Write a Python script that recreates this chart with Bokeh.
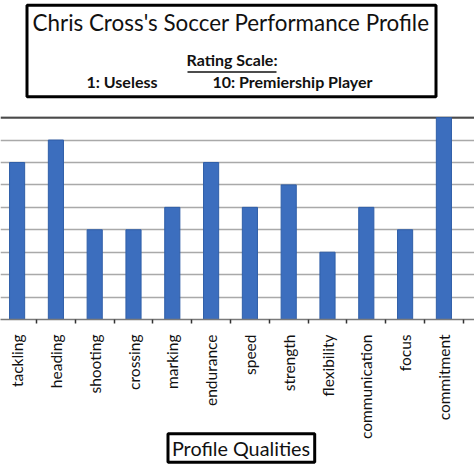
from bokeh.plotting import figure
from bokeh.layouts import column
from bokeh.models import Range1d, FixedTicker, Grid
from bokeh.core.properties import value
from bokeh.embed import file_html
from bokeh.resources import INLINE

qualities = ["tackling", "heading", "shooting", "crossing", "marking", "endurance",
             "speed", "strength", "flexibility", "communication", "focus", "commitment"]
ratings = [8, 9, 5, 5, 6, 8, 6, 7, 4, 6, 5, 10]
grid_values = [2, 3, 4, 5, 6, 7, 8, 9]
top_value = [10]

title_text = "Chris Cross's Soccer Performance Profile"
scale_head = "Rating Scale:"
scale_low = "1: Useless"
scale_high = "10: Premiership Player"
x_title = "Profile Qualities"

FONT = "Lato"
TXT_SHIFT = 8  # empirical correction for text baseline


def blank(fig):
    fig.axis.visible = False
    fig.grid.visible = False
    fig.outline_line_color = None
    fig.background_fill_color = None
    fig.border_fill_color = None


# ---------- header ----------
hdr = figure(width=474, height=110, x_range=Range1d(0, 474), y_range=Range1d(110, 0),
             output_backend="svg", toolbar_location=None,
             min_border=0, min_border_left=0, min_border_right=0,
             min_border_top=0, min_border_bottom=0)
blank(hdr)
hdr.quad(left=26.5, right=435.5, top=4.8, bottom=96.2, fill_color=None,
         line_color="black", line_width=3)
hdr.text(x=[230.5], y=[30 - TXT_SHIFT], text=[title_text], text_align="center",
         text_baseline="alphabetic", text_font=value(FONT), text_font_size="22.4px",
         text_color="#111111")
hdr.text(x=[231.5], y=[67 - TXT_SHIFT], text=[scale_head], text_align="center",
         text_baseline="alphabetic", text_font=value(FONT), text_font_size="16px",
         text_font_style="bold", text_color="#111111")
hdr.segment(x0=[187], x1=[276], y0=[71.5], y1=[71.5], line_color="#111111", line_width=1.5)
hdr.text(x=[121.5], y=[88.5 - TXT_SHIFT], text=[scale_low], text_align="center",
         text_baseline="alphabetic", text_font=value(FONT), text_font_size="16px",
         text_font_style="bold", text_color="#111111")
hdr.text(x=[292], y=[88.5 - TXT_SHIFT], text=[scale_high], text_align="center",
         text_baseline="alphabetic", text_font=value(FONT), text_font_size="16px",
         text_font_style="bold", text_color="#111111")

# ---------- main chart ----------
xs = list(range(len(qualities)))
step = 38.8
first_center = 16.6
x_start = (0 - first_center) / step
x_end = (474 - first_center) / step
y_lo, y_hi = 1, 10.05
frame_h = 203

p = figure(frame_width=474, frame_height=frame_h,
           x_range=Range1d(x_start, x_end), y_range=Range1d(y_lo, y_hi),
           output_backend="svg", toolbar_location=None,
           min_border_left=0, min_border_right=0, min_border_top=6, min_border_bottom=130)
p.outline_line_color = None
p.border_fill_color = None
p.yaxis.visible = False
p.xgrid.visible = False
p.ygrid.ticker = FixedTicker(ticks=grid_values)
p.ygrid.grid_line_color = "#a9a9a9"
p.ygrid.grid_line_width = 1.5
top_grid = Grid(dimension=1, ticker=FixedTicker(ticks=top_value),
                grid_line_color="#4a4a4a", grid_line_width=2.5)
p.add_layout(top_grid)

p.vbar(x=xs, top=ratings, bottom=1, width=0.39, fill_color="#3C6EBE",
       line_color="#2F5EA8", line_width=1)

ax = p.xaxis[0]
ax.ticker = FixedTicker(ticks=xs, minor_ticks=[i + 0.5 for i in range(-1, len(qualities))])
ax.major_label_overrides = {i: q for i, q in enumerate(qualities)}
ax.major_tick_line_color = None
ax.major_tick_in = 0
ax.major_tick_out = 4
ax.minor_tick_in = 0
ax.minor_tick_out = 4
ax.minor_tick_line_color = "#333333"
ax.minor_tick_line_width = 1.5
ax.axis_line_color = "#7a7a7a"
ax.axis_line_width = 1.5
ax.major_label_orientation = 3.14159265 / 2
ax.major_label_standoff = 11
ax.major_label_text_font = FONT
ax.major_label_text_font_size = "15.5px"
ax.major_label_text_color = "#111111"

# ---------- footer (x-axis title box) ----------
ftr = figure(width=474, height=40, x_range=Range1d(0, 474), y_range=Range1d(40, 0),
             output_backend="svg", toolbar_location=None,
             min_border=0, min_border_left=0, min_border_right=0,
             min_border_top=0, min_border_bottom=0,
             styles={"margin-top": "-18px"})
blank(ftr)
ftr.quad(left=167.5, right=314.2, top=2.2, bottom=30.8, fill_color=None,
         line_color="black", line_width=3)
ftr.text(x=[240.5], y=[24 - TXT_SHIFT], text=[x_title], text_align="center",
         text_baseline="alphabetic", text_font=value(FONT), text_font_size="19.8px",
         text_color="#111111")

layout = column(hdr, p, ftr, spacing=0)
open("out.html", "w").write(file_html(layout, INLINE))
